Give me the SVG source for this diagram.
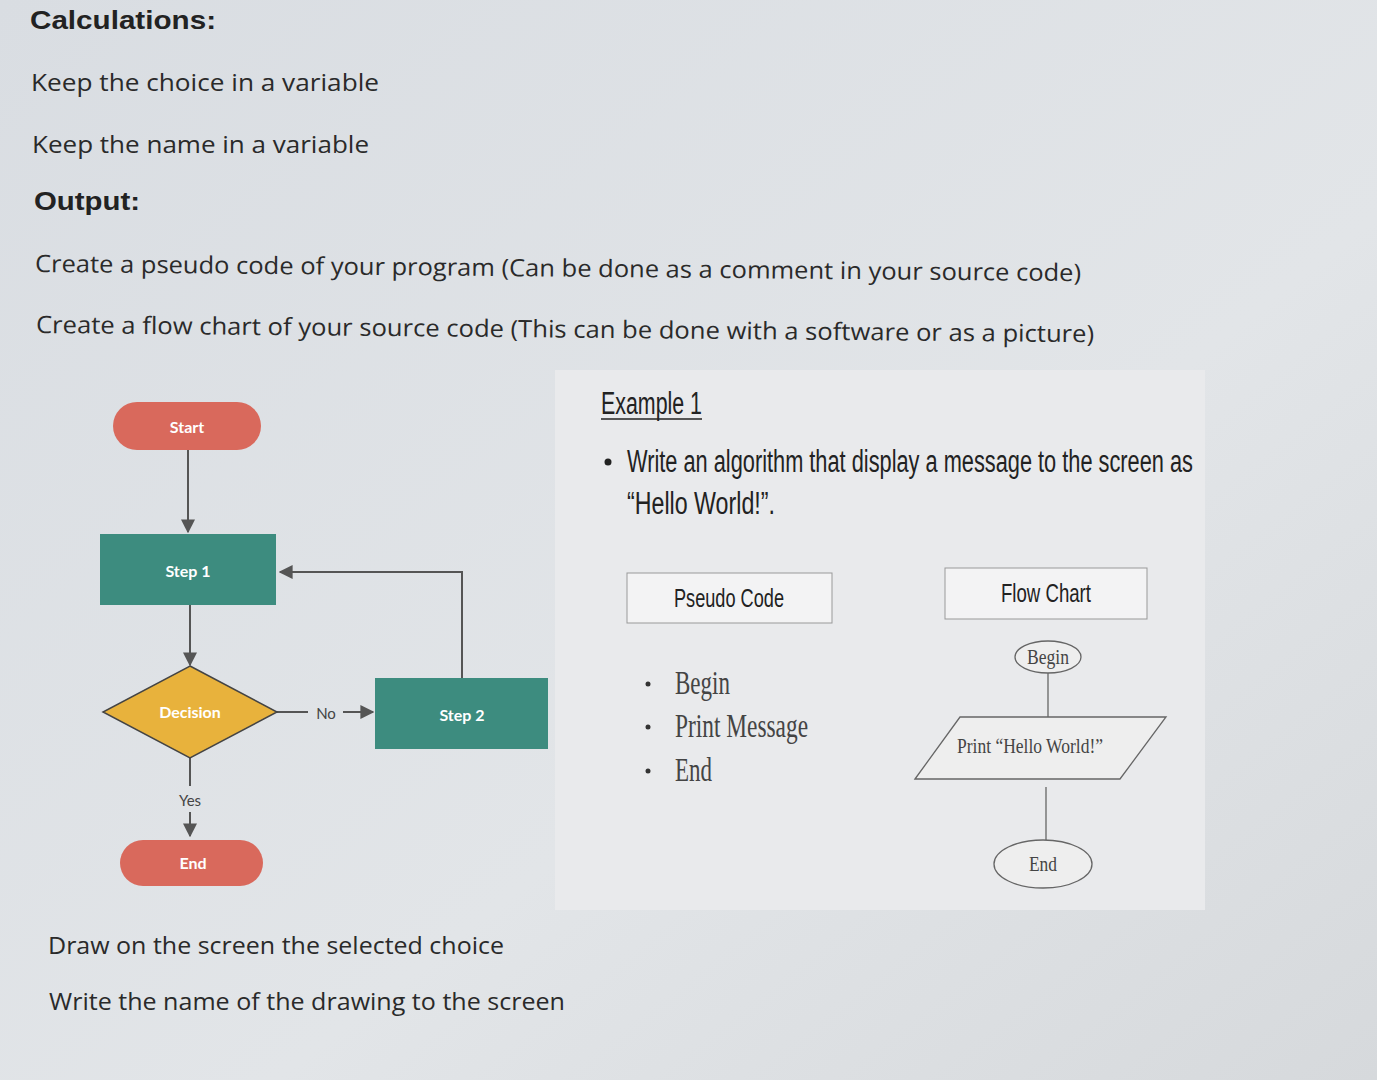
<svg xmlns="http://www.w3.org/2000/svg" width="1377" height="1080" viewBox="0 0 1377 1080">
<defs>
<linearGradient id="bg" x1="0" y1="0" x2="1" y2="1"><stop offset="0" stop-color="#d9dde2"/><stop offset="0.6" stop-color="#e2e5e8"/><stop offset="1" stop-color="#d6d9dc"/></linearGradient>
<marker id="ar" viewBox="0 0 10 10" refX="9" refY="5" markerWidth="7" markerHeight="7" orient="auto"><path d="M0,0L10,5L0,10z" fill="#555"/></marker>
</defs>
<style>
.t{font-family:"Open Sans","DejaVu Sans",sans-serif;font-size:24px;fill:#2a2a2a}
.b{font-family:"Liberation Sans",Arial,sans-serif;font-size:26px;font-weight:bold;fill:#222}
.n{font-family:Lato,"Liberation Sans",sans-serif;font-size:16px;font-weight:bold;fill:#fff}
.c{font-family:"Liberation Sans",sans-serif;fill:#222}
.s{font-family:"Liberation Serif",serif;fill:#444}
.ln{stroke:#555;stroke-width:2;fill:none}
.thin{stroke:#666;stroke-width:1.3;fill:none}
</style>
<rect width="1377" height="1080" fill="url(#bg)"/>
<rect x="555" y="370" width="650" height="540" fill="#e9eaec"/>
<text class="b" x="30" y="29" textLength="186" lengthAdjust="spacingAndGlyphs">Calculations:</text>
<text class="t" x="31" y="91" textLength="348" lengthAdjust="spacingAndGlyphs">Keep the choice in a variable</text>
<text class="t" x="32" y="153" textLength="337" lengthAdjust="spacingAndGlyphs">Keep the name in a variable</text>
<text class="b" x="34" y="210" textLength="106" lengthAdjust="spacingAndGlyphs">Output:</text>
<text class="t" x="35" y="272" textLength="1046" lengthAdjust="spacingAndGlyphs" transform="rotate(0.5 35 272)">Create a pseudo code of your program (Can be done as a comment in your source code)</text>
<text class="t" x="36" y="333" textLength="1058" lengthAdjust="spacingAndGlyphs" transform="rotate(0.5 36 333)">Create a flow chart of your source code (This can be done with a software or as a picture)</text>
<text class="t" x="48" y="954" textLength="456" lengthAdjust="spacingAndGlyphs">Draw on the screen the selected choice</text>
<text class="t" x="49" y="1010" textLength="516" lengthAdjust="spacingAndGlyphs">Write the name of the drawing to the screen</text>
<g id="connectors">
<line class="ln" x1="188" y1="450" x2="188" y2="532" marker-end="url(#ar)"/>
<line class="ln" x1="190" y1="605" x2="190" y2="665" marker-end="url(#ar)"/>
<line class="ln" x1="277" y1="712" x2="308" y2="712"/>
<line class="ln" x1="343" y1="712" x2="373" y2="712" marker-end="url(#ar)"/>
<polyline class="ln" points="462,678 462,572 280,572" marker-end="url(#ar)"/>
<line class="ln" x1="190" y1="758" x2="190" y2="786"/>
<line class="ln" x1="190" y1="812" x2="190" y2="836" marker-end="url(#ar)"/>
<line class="thin" x1="1048" y1="673" x2="1048" y2="717"/>
<line class="thin" x1="1046" y1="787" x2="1046" y2="840"/>
</g>
<text x="326" y="719" font-family="Lato,sans-serif" font-size="15" fill="#444" text-anchor="middle">No</text>
<text x="190" y="806" font-family="Lato,sans-serif" font-size="15" fill="#444" text-anchor="middle">Yes</text>
<g id="start"><rect x="113" y="402" width="148" height="48" rx="24" fill="#d9695c"/><text class="n" x="187" y="433" text-anchor="middle">Start</text></g>
<g id="step1"><rect x="100" y="534" width="176" height="71" fill="#3d8c7f"/><text class="n" x="188" y="577" text-anchor="middle">Step 1</text></g>
<g id="decision"><polygon points="190,666 277,712 190,758 103,712" fill="#e8b23c" stroke="#444" stroke-width="1.5"/><text class="n" x="190" y="718" text-anchor="middle">Decision</text></g>
<g id="step2"><rect x="375" y="678" width="173" height="71" fill="#3d8c7f"/><text class="n" x="462" y="721" text-anchor="middle">Step 2</text></g>
<g id="end"><rect x="120" y="840" width="143" height="46" rx="23" fill="#d9695c"/><text class="n" x="193" y="869" text-anchor="middle">End</text></g>
<g id="example">
<text class="c" x="601" y="414" font-size="31" textLength="101" lengthAdjust="spacingAndGlyphs">Example 1</text>
<line x1="601" y1="419" x2="702" y2="419" stroke="#222" stroke-width="1.5"/>
<circle cx="608" cy="462" r="3.5" fill="#222"/>
<text class="c" x="627" y="472" font-size="31" textLength="566" lengthAdjust="spacingAndGlyphs">Write an algorithm that display a message to the screen as</text>
<text class="c" x="627" y="514" font-size="31" textLength="148" lengthAdjust="spacingAndGlyphs">“Hello World!”.</text>
</g>
<g id="pseudo"><rect x="627" y="573" width="205" height="50" fill="#f3f3f4" stroke="#999"/><text class="c" x="729" y="607" font-size="26" text-anchor="middle" textLength="110" lengthAdjust="spacingAndGlyphs">Pseudo Code</text></g>
<g id="pseudolist">
<circle cx="648" cy="684" r="2.5" fill="#333"/><text class="s" x="675" y="694" font-size="33" fill="#222" textLength="55" lengthAdjust="spacingAndGlyphs">Begin</text>
<circle cx="648" cy="727" r="2.5" fill="#333"/><text class="s" x="675" y="737" font-size="33" fill="#222" textLength="133" lengthAdjust="spacingAndGlyphs">Print Message</text>
<circle cx="648" cy="771" r="2.5" fill="#333"/><text class="s" x="675" y="781" font-size="33" fill="#222" textLength="37" lengthAdjust="spacingAndGlyphs">End</text>
</g>
<g id="flowchart"><rect x="945" y="568" width="202" height="51" fill="#f3f3f4" stroke="#999"/><text class="c" x="1046" y="602" font-size="26" text-anchor="middle" textLength="90" lengthAdjust="spacingAndGlyphs">Flow Chart</text></g>
<g id="fbegin"><ellipse cx="1048" cy="657" rx="33" ry="16" fill="#eee" stroke="#666" stroke-width="1.3"/><text class="s" x="1048" y="664" font-size="20" text-anchor="middle" textLength="42" lengthAdjust="spacingAndGlyphs">Begin</text></g>
<g id="fprint"><polygon points="915,779 960,717 1166,717 1120,779" fill="#eee" stroke="#666" stroke-width="1.3"/><text class="s" x="957" y="753" font-size="20" textLength="146" lengthAdjust="spacingAndGlyphs">Print “Hello World!”</text></g>
<g id="fend"><ellipse cx="1043" cy="864" rx="49" ry="24" fill="#eee" stroke="#666" stroke-width="1.3"/><text class="s" x="1043" y="871" font-size="21" text-anchor="middle" textLength="28" lengthAdjust="spacingAndGlyphs">End</text></g>
</svg>
